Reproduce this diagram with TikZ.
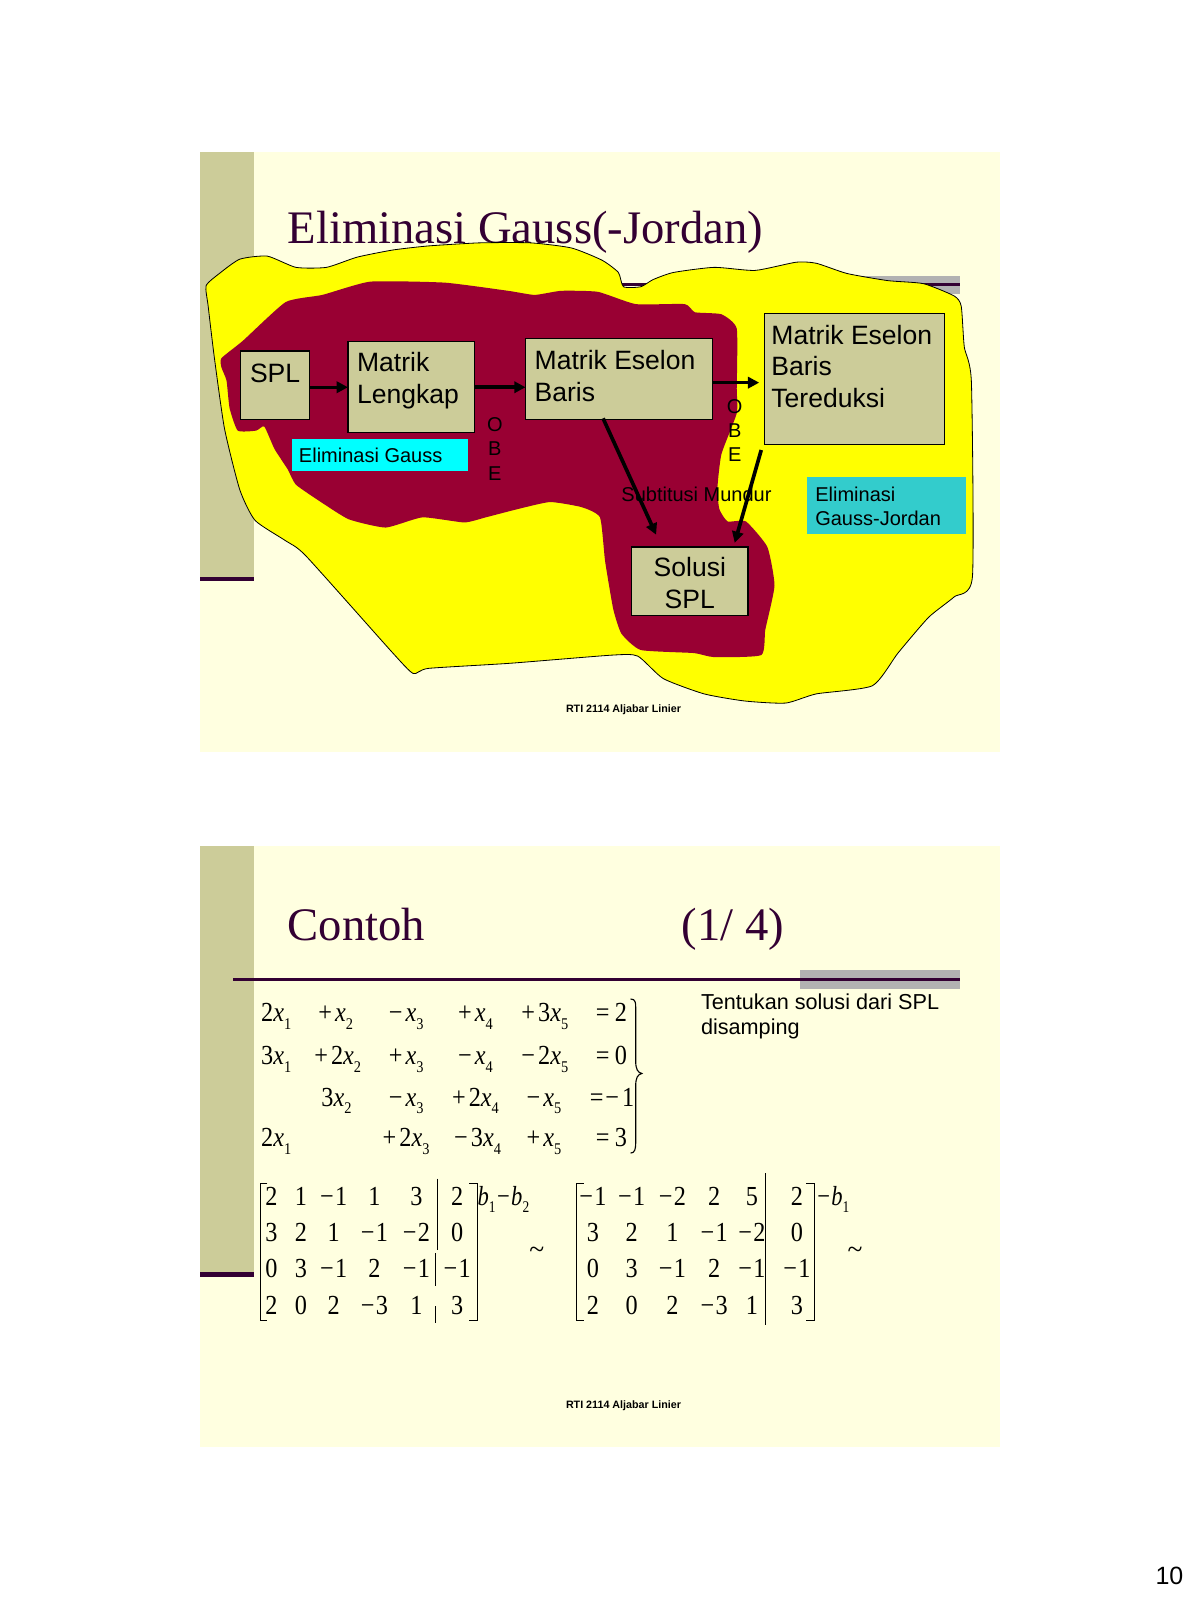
\documentclass[tikz,border=0pt]{standalone}
\usepackage{fontspec}
\setmainfont{Liberation Sans}
\newfontfamily\serifx{Liberation Serif}
\usetikzlibrary{arrows.meta}
\definecolor{slidebg}{HTML}{FFFFE0}
\definecolor{sidebar}{HTML}{CCCC99}
\definecolor{plum}{HTML}{330033}
\definecolor{maroon}{HTML}{990033}
\definecolor{greyband}{HTML}{B2B2B2}
\definecolor{teal2}{HTML}{33CCCC}
\definecolor{brightyellow}{HTML}{FFFF00}
\definecolor{brightcyan}{HTML}{00FFFF}
\newcommand\fsz[1]{\fontsize{#1}{#1}\selectfont}
\newcommand\xv[1]{\textit{x}\raisebox{-0.28em}{\fsz{16}#1}}
\newcommand\bv[1]{\textit{b}\raisebox{-0.28em}{\fsz{16}#1}}
\newcommand\mns{\hbox{\fontspec{Liberation Serif}\char"2212}\hspace{1.5pt}}
\newcommand\emns{\hbox{\fontspec{Liberation Serif}\char"2212}\hspace{3.5pt}}
\newcommand\pls{+\hspace{3.5pt}}
\newcommand\eqs{=\hspace{6pt}}
\newcommand\nar[1]{\scalebox{.88}[1]{#1}}
\tikzset{
 every node/.style={inner sep=0pt,outer sep=0pt},
 boxt/.style={anchor=west,font=\fsz{26},align=left},
 arr/.style={line width=#1,-{Triangle[length=11pt,width=11pt]},black},
 eqn/.style={anchor=base west,font=\serifx\fsz{27}},
 mc/.style={anchor=base,font=\serifx\fsz{27}},
 title/.style={anchor=base west,font=\serifx\fsz{45.7},text=plum},
 foot/.style={font=\bfseries\fsz{10.5}},
 lab/.style={font=\fsz{19.6},anchor=center},
 thin1/.style={line width=1.1pt,black}
}
\newcommand\eqc[3]{\node[eqn] at (#1,#2) {\nar{#3}};}
\newcommand\mcc[3]{\node[mc] at (#1,#2) {\nar{#3}};}
\newcommand\boxnode[6]{%
 \path[draw=black,line width=1.1pt,fill=#6] (#2,#3) rectangle (#4,#5);
 \coordinate (#1) at ({(#2+#4)/2},{(#3+#5)/2});
 \coordinate (#1-n) at ({(#2+#4)/2},#3);
 \coordinate (#1-s) at ({(#2+#4)/2},#5);
 \coordinate (#1-w) at (#2,{(#3+#5)/2});
 \coordinate (#1-e) at (#4,{(#3+#5)/2});
}
\begin{document}
\begin{tikzpicture}[x=1pt,y=-1pt]
\useasboundingbox (0,0) rectangle (1176,1568);
\fill[white] (0,0) rectangle (1176,1568);
% slide 1
\fill[slidebg] (196,149) rectangle (980,737);
\fill[sidebar] (196,149) rectangle (249,565);
\fill[plum] (196,565) rectangle (249,569);
\fill[greyband] (784,270) rectangle (941,288);
\fill[plum] (228,277.5) rectangle (941,280.5);
\node[title] (t1) at (282,239) {Eliminasi Gauss(-Jordan)};
\draw[black,line width=0.8pt,fill=brightyellow] plot[smooth cycle,tension=0.35] coordinates {
(202,280)(215,268)(235,254)(262,251)(290,262)(320,262)(350,252)(385,245)(420,241)(470,238)(520,238)(560,243)(590,255)(606,267)(611,281)(628,281)(640,274)(660,267)(700,262)(740,265)(780,257)(800,258)(830,268)(870,275)(905,278)(935,290)(942,300)(945,340)(952,375)(953,565)(935,585)(910,605)(880,640)(855,672)(800,680)(770,689)(730,687)(690,680)(650,665)(625,643)(600,642)(500,650)(420,655)(405,660)(385,640)(300,545)(280,530)(250,510)(235,480)(220,420)(210,350)(204,300)};
\fill[maroon] plot[smooth cycle,tension=0.3] coordinates {
(217,351)(238,334)(280,296)(316,289)(363,276)(436,277)(498,285)(524,289)(550,285)(586,286)(623,298)(671,298)(681,306)(707,308)(722,322)(722,381)(722,405)(707,445)(703,479)(705,499)(713,511)(731,511)(752,536)(759,574)(750,617)(746,642)(700,644)(680,640)(628,637)(609,621)(601,597)(593,550)(588,507)(570,497)(539,492)(507,499)(476,507)(455,512)(414,507)(378,517)(342,509)(316,493)(290,475)(282,460)(269,440)(259,418)(251,422)(233,422)(225,400)(222,373)(217,360)};
\boxnode{spl}{236}{344}{303}{411}{sidebar}
\boxnode{ml}{341}{335}{465}{424}{sidebar}
\boxnode{meb}{515}{332}{698}{411}{sidebar}
\boxnode{mebt}{749}{307}{926}{436}{sidebar}
\boxnode{sol}{619}{536}{733}{603}{sidebar}
\node[boxt] (tspl) at (245,366) {SPL};
\node[boxt] (tml1) at (350,355) {Matrik};
\node[boxt] (tml2) at (350,388.5) {Lengkap};
\node[boxt] (tmeb1) at (524,353) {Matrik Eselon};
\node[boxt] (tmeb2) at (524,384) {Baris};
\node[boxt] (tt1) at (756,328) {Matrik Eselon};
\node[boxt] (tt2) at (756,359) {Baris};
\node[boxt] (tt3) at (756,390) {Tereduksi};
\node[font=\fsz{26}] (ts1) at (676,556) {Solusi};
\node[font=\fsz{26}] (ts2) at (676,587) {SPL};
\fill[brightcyan] (286,430) rectangle (459,462);
\node[lab,anchor=west] (egauss) at (293,446.5) {Eliminasi Gauss};
\fill[teal2] (791,467) rectangle (947,523);
\node[lab,anchor=west] (ej1) at (799,484) {Eliminasi};
\node[lab,anchor=west] (ej2) at (799,507.5) {Gauss-Jordan};
\node[lab] (o1) at (485,416) {O};
\node[lab] (b1) at (485,440) {B};
\node[lab] (e1) at (485,464) {E};
\node[lab] (o2) at (720,398) {O};
\node[lab] (b2) at (720,422) {B};
\node[lab] (e2) at (720,446) {E};
\node[lab,anchor=west] (sm) at (609,484.5) {Subtitusi Mundur};
\coordinate (a1) at (591,410);
\coordinate (a2) at (643,524);
\coordinate (a3) at (746,441);
\coordinate (a4) at (720,532);
\draw[arr=2.6pt] (spl-e |- ml-w) -- (ml-w);
\draw[arr=4pt] (ml-e) -- (ml-e -| meb-w);
\draw[arr=3.6pt] ([yshift=-3.5pt]meb-e) -- ([xshift=46pt,yshift=-3.5pt]meb-e);
\draw[arr=3.6pt] (a1) -- (a2);
\draw[arr=3.6pt] (a3) -- (a4);
\node[foot] (f1) at (611,696) {RTI 2114 Aljabar Linier};
% slide 2
\fill[slidebg] (196,829) rectangle (980,1418);
\fill[sidebar] (196,829) rectangle (249,1247);
\fill[plum] (196,1247) rectangle (249,1251);
\fill[greyband] (784,951) rectangle (941,969);
\fill[plum] (228,958) rectangle (941,961);
\node[title] (t2) at (282,922) {Contoh};
\node[title] (t3) at (668,922) {(1/ 4)};
\node[font=\fsz{21.2},anchor=west] (q1) at (687,982) {Tentukan solusi dari SPL};
\node[font=\fsz{21.2},anchor=west] (q2) at (687,1008) {disamping};
% equations
\eqc{256}{1001}{2\xv1}\eqc{312}{1001}{\pls\xv2}\eqc{381}{1001}{\emns\xv3}\eqc{449}{1001}{\pls\xv4}\eqc{511}{1001}{\pls 3\xv5}\eqc{584}{1001}{\eqs 2}
\eqc{256}{1043}{3\xv1}\eqc{308}{1043}{\pls 2\xv2}\eqc{381}{1043}{\pls\xv3}\eqc{449}{1043}{\emns\xv4}\eqc{511}{1043}{\emns 2\xv5}\eqc{584}{1043}{\eqs 0}
\eqc{315}{1084}{3\xv2}\eqc{381}{1084}{\emns\xv3}\eqc{443}{1084}{\pls 2\xv4}\eqc{516}{1084}{\emns\xv5}\eqc{578}{1084}{=\hspace{2pt}\emns 1}
\eqc{256}{1124}{2\xv1}\eqc{375}{1124}{\pls 2\xv3}\eqc{445}{1124}{\emns 3\xv4}\eqc{516}{1124}{\pls\xv5}\eqc{584}{1124}{\eqs 3}
\draw[thin1] (618,979) .. controls (623,979) and (623,983) .. (623,988) -- (623,1040) .. controls (623,1048) and (625,1051) .. (629,1052) .. controls (625,1053) and (623,1056) .. (623,1064) -- (623,1120) .. controls (623,1126) and (622,1130) .. (618,1130);
% matrix 1
\foreach \y/\a/\b/\c/\d/\e/\f in {1181/2/1/\mns 1/1/3/2,1217/3/2/1/\mns 1/\mns 2/0,1252/0/3/\mns 1/2/\mns 1/\mns 1,1288/2/0/2/\mns 3/1/3}{
 \mcc{266}{\y}{\a}\mcc{295}{\y}{\b}\mcc{327}{\y}{\c}\mcc{367}{\y}{\d}\mcc{408}{\y}{\e}\mcc{448}{\y}{\f}}
\draw[thin1] (262,1160) -- (255,1160) -- (255,1294) -- (262,1294);
\draw[thin1] (460,1160) -- (468,1160) -- (468,1294) -- (460,1294);
\draw[thin1] (429,1155) -- (429,1225) (427,1228) -- (427,1260) (427,1280) -- (427,1297);
\node[eqn] at (468,1181) {\scalebox{.82}[1]{\bv1\hspace{2pt}\mns\bv2}};
\node[mc] at (526,1233) {\textasciitilde};
% matrix 2
\foreach \y/\a/\b/\c/\d/\e/\f in {1181/\mns 1/\mns 1/\mns 2/2/5/2,1217/3/2/1/\mns 1/\mns 2/0,1252/0/3/\mns 1/2/\mns 1/\mns 1,1288/2/0/2/\mns 3/1/3}{
 \mcc{581}{\y}{\a}\mcc{619}{\y}{\b}\mcc{659}{\y}{\c}\mcc{700}{\y}{\d}\mcc{737}{\y}{\e}\mcc{781}{\y}{\f}}
\draw[thin1] (572,1160) -- (565,1160) -- (565,1294) -- (572,1294);
\draw[thin1] (790,1160) -- (798,1160) -- (798,1294) -- (790,1294);
\draw[thin1] (750,1150) -- (750,1298);
\node[eqn] at (801,1181) {\scalebox{.82}[1]{\mns\bv1}};
\node[mc] at (838,1233) {\textasciitilde};
\node[foot] (f2) at (611,1378) {RTI 2114 Aljabar Linier};
\node[font=\fsz{24.5}] (pg) at (1146,1544) {10};
\end{tikzpicture}
\end{document}
